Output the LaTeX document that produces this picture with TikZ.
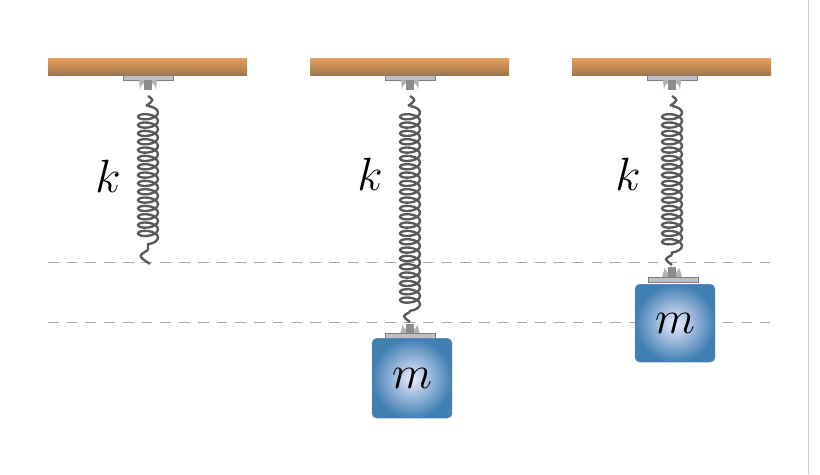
\documentclass[tikz,border=0pt]{standalone}
\usetikzlibrary{decorations.pathmorphing,shadings}
\begin{document}
\begin{tikzpicture}[x=0.03cm,y=-0.03cm,
  wood/.style={top color=brown!55!orange!75!white,bottom color=brown!75!black!85,draw=none},
  coilspr/.style={draw=black!65,line width=2pt,decorate,decoration={coil,amplitude=0.3cm,segment length=#1,aspect=0.45}},
  plate/.style={fill=black!25,draw=black!50,line width=0.4pt},
  massbox/.style={draw=blue!40!black!40,line width=0.3pt,rounded corners=4pt,inner color=blue!8!white,outer color=blue!45!cyan!60!black!75},
  lbl/.style={font=\Huge,scale=1.6}]
\useasboundingbox (0,0) rectangle (820,474);
\draw[black!20,line width=0.8pt] (808,0) -- (808,474);
\draw[black!35,dash pattern=on 9pt off 7pt,line width=0.8pt] (48,262) coordinate(d1a) -- (770,262) coordinate(d1b);
\draw[black!35,dash pattern=on 9pt off 7pt,line width=0.8pt] (48,322) coordinate(d2a) -- (770,322) coordinate(d2b);
\foreach \c/\e/\n in {148/250/a,410/312/b,672/255/c}{
  \fill[wood] (\c-100,58) rectangle (\c+99,75);
  \fill[plate] (\c-25,75) rectangle (\c+25,80);
  \fill[black!30] (\c-9,80) -- (\c+9,80) -- (\c+8,90) arc (0:-180:8) -- cycle;
  \fill[black!45] (\c-4,80) rectangle (\c+4,90);
  \draw[black!65,line width=2pt] (\c,96) .. controls (\c+6,100) .. (\c-2,106);
  \draw[coilspr=0.25cm] (\c,106) -- (\c,\e);
}
\draw[black!65,line width=2pt] (148,250) .. controls (138,256) .. (150,264);
\draw[black!65,line width=2pt] (410,312) .. controls (402,316) .. (410,322);
\fill[black!30] (400,334) -- (403,324) arc (180:0:7) -- (420,334) -- cycle;
\fill[black!45] (406,324) rectangle (414,334);
\fill[plate] (385,333) rectangle (435,338);
\node[massbox,minimum width=80*0.03cm,minimum height=80*0.03cm,anchor=north] (m2) at (412,338) {};
\node[lbl] at (m2) {$m$};
\draw[black!65,line width=2pt] (672,255) .. controls (664,259) .. (672,265);
\fill[black!30] (662,277) -- (665,267) arc (180:0:7) -- (682,277) -- cycle;
\fill[black!45] (668,267) rectangle (676,277);
\fill[plate] (648,277) rectangle (698,282);
\node[massbox,minimum width=80*0.03cm,minimum height=78*0.03cm,anchor=north] (m3) at (675,284) {};
\node[lbl] at (m3) {$m$};
\node[lbl] (k1) at (108,176) {$k$};
\node[lbl] (k2) at (370,174) {$k$};
\node[lbl] (k3) at (628,174) {$k$};
\end{tikzpicture}
\end{document}
